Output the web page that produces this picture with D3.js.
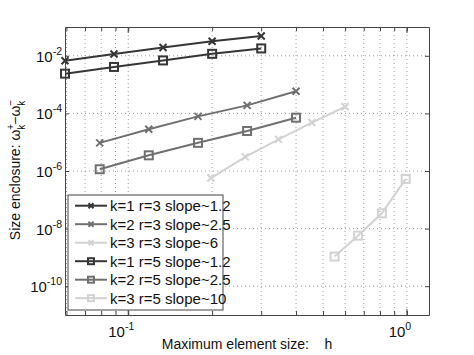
<!DOCTYPE html>
<html><head><meta charset="utf-8">
<script src="https://cdn.jsdelivr.net/npm/d3@7"></script>
<style>body{margin:0;background:#fff}svg{display:block}text{font-family:"Liberation Sans",Arial,sans-serif;fill:#111}</style>
</head><body>
<script>
// Data
const hK1 = [0.0593, 0.0889, 0.1333, 0.2, 0.3];
const hK2 = [0.079, 0.1185, 0.178, 0.267, 0.4];
const hK3r3 = [0.198, 0.263, 0.346, 0.456, 0.6];
const hK3r5 = [0.55, 0.667, 0.813, 0.99];
const k1r3 = [6.7e-3, 1.15e-2, 1.94e-2, 3.2e-2, 4.9e-2];
const k2r3 = [9.5e-6, 2.8e-5, 7.9e-5, 1.9e-4, 5.9e-4];
const k3r3 = [5.7e-7, 3.1e-6, 1.25e-5, 4.8e-5, 1.7e-4];
const k1r5 = [2.4e-3, 4.1e-3, 6.9e-3, 1.17e-2, 1.8e-2];
const k2r5 = [1.15e-6, 3.5e-6, 9.5e-6, 2.45e-5, 7.1e-5];
const k3r5 = [1.07e-9, 5.7e-9, 3.4e-8, 5.3e-7];
const seriesNames = ["k=1 r=3 slope~1.2","k=2 r=3 slope~2.5","k=3 r=3 slope~6","k=1 r=5 slope~1.2","k=2 r=5 slope~2.5","k=3 r=5 slope~10"];
const xTickExp = [-1, 0];
const yTickExp = [-2, -4, -6, -8, -10];
const xMinor = [0.06,0.07,0.08,0.09,0.2,0.3,0.4,0.5,0.6,0.7,0.8,0.9];

const series = [
  {name: seriesNames[0], h: hK1, v: k1r3, color: "#363636", marker: "x"},
  {name: seriesNames[1], h: hK2, v: k2r3, color: "#707070", marker: "x"},
  {name: seriesNames[2], h: hK3r3, v: k3r3, color: "#d2d2d2", marker: "x"},
  {name: seriesNames[3], h: hK1, v: k1r5, color: "#363636", marker: "s"},
  {name: seriesNames[4], h: hK2, v: k2r5, color: "#707070", marker: "s"},
  {name: seriesNames[5], h: hK3r5, v: k3r5, color: "#d2d2d2", marker: "s"}
];

const W = 474, H = 355;
const L = 65, R = 429, T = 27, B = 315;
const svg = d3.select("body").append("svg").attr("width", W).attr("height", H);
const x = d3.scaleLog().domain([0.0593, 1.2]).range([L, R]);
const y = d3.scaleLog().domain([1e-11, 1e-1]).range([B, T]);

// grid
const g = svg.append("g");
xMinor.concat(xTickExp.map(e => Math.pow(10, e))).forEach(v => {
  g.append("line").attr("x1", x(v)).attr("x2", x(v)).attr("y1", T).attr("y2", B)
    .attr("stroke", "#888").attr("stroke-width", 0.8).attr("stroke-dasharray", "1,3");
});
yTickExp.forEach(e => {
  g.append("line").attr("x1", L).attr("x2", R).attr("y1", y(Math.pow(10, e))).attr("y2", y(Math.pow(10, e)))
    .attr("stroke", "#888").attr("stroke-width", 0.8).attr("stroke-dasharray", "1,3");
});

// axes with ticks
const axB = d3.axisBottom(x).tickValues(xMinor.concat([0.1, 1])).tickSizeInner(-4).tickSizeOuter(0).tickFormat("");
const axT = d3.axisTop(x).tickValues(xMinor.concat([0.1, 1])).tickSizeInner(-4).tickSizeOuter(0).tickFormat("");
const yv = yTickExp.map(e => Math.pow(10, e));
const axL = d3.axisLeft(y).tickValues(yv).tickSizeInner(-4).tickSizeOuter(0).tickFormat("");
const axR = d3.axisRight(y).tickValues(yv).tickSizeInner(-4).tickSizeOuter(0).tickFormat("");
[[axB, `translate(0,${B})`], [axT, `translate(0,${T})`], [axL, `translate(${L},0)`], [axR, `translate(${R},0)`]].forEach(([a, t]) => {
  const gg = svg.append("g").attr("transform", t).call(a);
  gg.selectAll("path,line").attr("stroke", "#444").attr("stroke-width", 1);
});
[0.1, 1].forEach(v => {
  svg.append("line").attr("x1", x(v)).attr("x2", x(v)).attr("y1", B).attr("y2", B - 6).attr("stroke", "#444");
  svg.append("line").attr("x1", x(v)).attr("x2", x(v)).attr("y1", T).attr("y2", T + 6).attr("stroke", "#444");
});

// tick labels
xTickExp.forEach(e => {
  const t = svg.append("text").attr("x", x(Math.pow(10, e)) - 7).attr("y", 337).attr("text-anchor", "middle").attr("font-size", 15);
  t.append("tspan").text("10");
  t.append("tspan").attr("dy", -7).attr("font-size", 10.5).text(e === 0 ? "0" : "-1");
});
yTickExp.forEach(e => {
  const t = svg.append("text").attr("x", 62).attr("y", y(Math.pow(10, e)) + 6).attr("text-anchor", "end").attr("font-size", 15);
  t.append("tspan").text("10");
  t.append("tspan").attr("dy", -7).attr("font-size", 10.5).text("-" + (-e));
});

// series
function drawMarker(sel, type, cx, cy, color, s) {
  if (type === "x") {
    sel.append("path").attr("d", `M${cx-s},${cy-s}L${cx+s},${cy+s}M${cx-s},${cy+s}L${cx+s},${cy-s}`)
      .attr("stroke", color).attr("stroke-width", 2).attr("fill", "none");
  } else {
    sel.append("rect").attr("x", cx - s).attr("y", cy - s).attr("width", 2 * s).attr("height", 2 * s)
      .attr("stroke", color).attr("stroke-width", 2).attr("fill", "none");
  }
}
const line = d3.line().x(d => x(d[0])).y(d => y(d[1]));
series.forEach(s => {
  const pts = s.h.map((h, i) => [h, s.v[i]]);
  const gs = svg.append("g");
  gs.append("path").attr("d", line(pts)).attr("fill", "none").attr("stroke", s.color).attr("stroke-width", 2);
  pts.forEach(p => drawMarker(gs, s.marker, x(p[0]), y(p[1]), s.color, s.marker === "x" ? 3.5 : 4));
});

// legend
const lg = svg.append("g");
lg.append("rect").attr("x", 68).attr("y", 195).attr("width", 155).attr("height", 115)
  .attr("fill", "#fff").attr("stroke", "#444").attr("stroke-width", 1);
series.forEach((s, i) => {
  const cy = 205.7 + i * 18.5;
  lg.append("line").attr("x1", 75).attr("x2", 107).attr("y1", cy).attr("y2", cy).attr("stroke", s.color).attr("stroke-width", 2);
  drawMarker(lg, s.marker, 91, cy, s.color, s.marker === "x" ? 2.5 : 3);
  lg.append("text").attr("x", 110).attr("y", cy + 5.5).attr("font-size", 15).text(s.name);
});

// axis labels
svg.append("text").attr("x", 247).attr("y", 349).attr("text-anchor", "middle").attr("font-size", 14)
  .attr("xml:space", "preserve").style("white-space", "pre").text("Maximum element size:    h");
const yl = svg.append("text").attr("transform", "translate(20,170) rotate(-90)").attr("text-anchor", "middle").attr("font-size", 14);
yl.append("tspan").text("Size enclosure: \u03c9");
yl.append("tspan").attr("dy", -6).attr("font-size", 10).text("+");
yl.append("tspan").attr("dx", -6).attr("dy", 11).attr("font-size", 10).text("k");
yl.append("tspan").attr("dy", -5).text("\u2212\u03c9");
yl.append("tspan").attr("dy", -6).attr("font-size", 10).text("\u2212");
yl.append("tspan").attr("dx", -6).attr("dy", 11).attr("font-size", 10).text("k");
</script>
</body></html>
